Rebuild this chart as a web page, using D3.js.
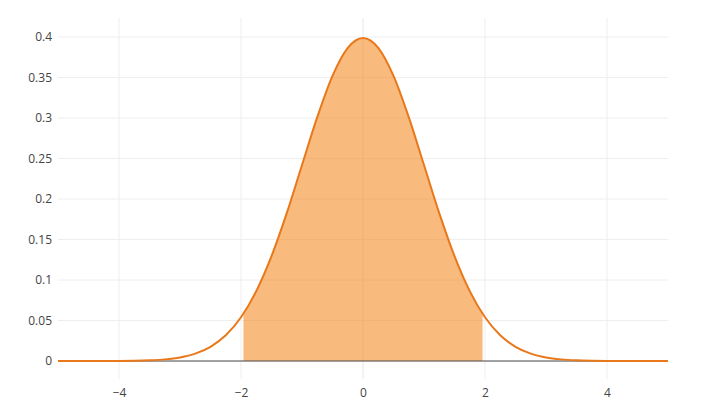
<!DOCTYPE html>
<html>
<head>
<meta charset="utf-8">
<script src="https://cdn.jsdelivr.net/npm/d3@7"></script>
<style>
  body { margin: 0; background: #fff; }
  #root { width: 716px; height: 412px; }
  text { font-family: "Open Sans", sans-serif; }
</style>
</head>
<body>
<div id="root"></div>
<script>
// density curve
const xs = [-5, -4.75, -4.5, -4.25, -4, -3.75, -3.5, -3.25, -3, -2.75, -2.5, -2.25, -2, -1.75, -1.5, -1.25, -1, -0.75, -0.5, -0.25,
  0, 0.25, 0.5, 0.75, 1, 1.25, 1.5, 1.75, 2, 2.25, 2.5, 2.75, 3, 3.25, 3.5, 3.75, 4, 4.25, 4.5, 4.75, 5];
const ys = [0.0000015, 0.000005, 0.000016, 0.000047, 0.000134, 0.000353, 0.000873, 0.00203, 0.00443, 0.00909, 0.0175, 0.0317, 0.054, 0.0863, 0.1295, 0.1826, 0.242, 0.3011, 0.3521, 0.3867,
  0.3989, 0.3867, 0.3521, 0.3011, 0.242, 0.1826, 0.1295, 0.0863, 0.054, 0.0317, 0.0175, 0.00909, 0.00443, 0.00203, 0.000873, 0.000353, 0.000134, 0.000047, 0.000016, 0.000005, 0.0000015];

// shaded area between -1.96 and 1.96
const shadeX = [-1.96, -1.75, -1.5, -1.25, -1, -0.75, -0.5, -0.25, 0, 0.25, 0.5, 0.75, 1, 1.25, 1.5, 1.75, 1.96];
const shadeY = [0.0584, 0.0863, 0.1295, 0.1826, 0.242, 0.3011, 0.3521, 0.3867, 0.3989, 0.3867, 0.3521, 0.3011, 0.242, 0.1826, 0.1295, 0.0863, 0.0584];

const xTicks = [-4, -2, 0, 2, 4];
const yTicks = [0, 0.05, 0.1, 0.15, 0.2, 0.25, 0.3, 0.35, 0.4];

const width = 716, height = 412;
const margin = { top: 18, right: 48, bottom: 33, left: 58 };

const svg = d3.select('#root').append('svg')
  .attr('width', width)
  .attr('height', height);

const x = d3.scaleLinear()
  .domain([-5, 5])
  .range([margin.left, width - margin.right]);

const y = d3.scaleLinear()
  .domain([-0.0222, 0.4235])
  .range([height - margin.bottom, margin.top]);

// grid
svg.append('g')
  .selectAll('line')
  .data(xTicks.concat([0]))
  .join('line')
    .attr('x1', d => x(d)).attr('x2', d => x(d))
    .attr('y1', margin.top).attr('y2', height - margin.bottom)
    .attr('stroke', '#eee').attr('stroke-width', 1);

svg.append('g')
  .selectAll('line')
  .data(yTicks.filter(d => d !== 0))
  .join('line')
    .attr('x1', margin.left).attr('x2', width - margin.right)
    .attr('y1', d => y(d)).attr('y2', d => y(d))
    .attr('stroke', '#eee').attr('stroke-width', 1);

const curve = xs.map((d, i) => [d, ys[i]]);
const shade = shadeX.map((d, i) => [d, shadeY[i]]);

svg.append('path')
  .datum(shade)
  .attr('d', d3.area()
    .x(d => x(d[0]))
    .y0(y(0))
    .y1(d => y(d[1]))
    .curve(d3.curveMonotoneX))
  .attr('fill', 'rgb(245,140,40)')
  .attr('fill-opacity', 0.6);

// zero line
svg.append('line')
  .attr('x1', margin.left).attr('x2', width - margin.right)
  .attr('y1', y(0)).attr('y2', y(0))
  .attr('stroke', '#444').attr('stroke-width', 1);

svg.append('path')
  .datum(curve)
  .attr('d', d3.line()
    .x(d => x(d[0]))
    .y(d => y(d[1]))
    .curve(d3.curveMonotoneX))
  .attr('fill', 'none')
  .attr('stroke', '#e8781a')
  .attr('stroke-width', 2);

// axes
const xAxis = svg.append('g')
  .attr('transform', 'translate(0,' + (height - margin.bottom) + ')')
  .call(d3.axisBottom(x).tickValues(xTicks).tickSize(0).tickPadding(9)
    .tickFormat(d => d < 0 ? '\u2212' + Math.abs(d) : d));
xAxis.select('.domain').remove();

const yAxis = svg.append('g')
  .attr('transform', 'translate(' + margin.left + ',0)')
  .call(d3.axisLeft(y).tickValues(yTicks).tickSize(0).tickPadding(6)
    .tickFormat(d => String(+d.toFixed(2))));
yAxis.select('.domain').remove();

svg.selectAll('.tick text')
  .attr('fill', '#444')
  .style('font-size', '12px')
  .style('font-family', '"Open Sans", sans-serif');
</script>
</body>
</html>
